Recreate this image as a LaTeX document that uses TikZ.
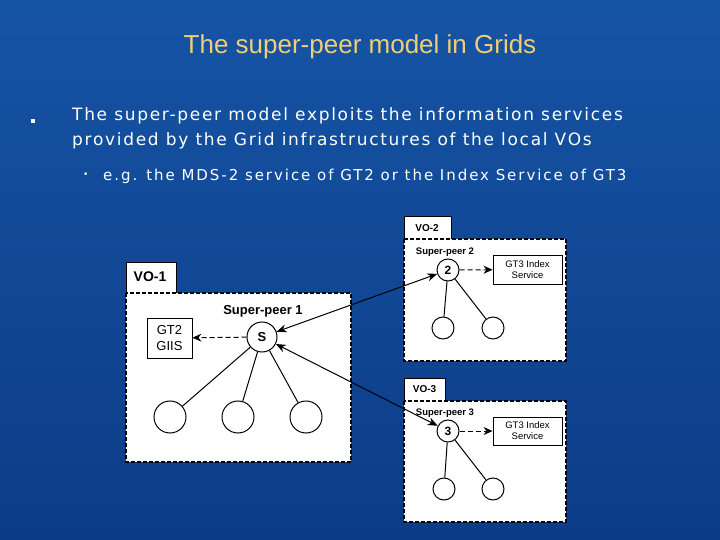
\documentclass[tikz,border=0pt]{standalone}
\usepackage{fontspec}
\setmainfont{Liberation Sans}
\newfontfamily\bodyfont[LetterSpace=10]{DejaVu Sans}
\newfontfamily\subfont[LetterSpace=13]{DejaVu Sans}
\usetikzlibrary{arrows.meta}
\definecolor{bgblue}{RGB}{22,84,165}
\definecolor{bgdark}{RGB}{12,60,135}
\definecolor{titlecol}{RGB}{240,205,120}
\tikzset{
  vobox/.style={draw=black,fill=white,dash pattern=on 4pt off 2pt,line width=1.1pt},
  votab/.style={draw=black,fill=white,line width=1pt},
  peer/.style={circle,draw=black,fill=white,line width=1pt,inner sep=0pt},
  svc/.style={draw=black,fill=white,line width=0.9pt,align=center,inner sep=1pt},
  link/.style={line width=1pt},
  dash arr/.style={dash pattern=on 5pt off 3pt,line width=1pt,-{Stealth[length=9pt,width=8pt]}},
  bi arr/.style={line width=1pt,{Stealth[length=10pt,width=8pt]}-{Stealth[length=10pt,width=8pt]}},
}
\begin{document}
\begin{tikzpicture}[x=1pt,y=-1pt]
\shade[top color=bgblue,bottom color=bgdark] (0,0) rectangle (720,540);
\useasboundingbox (0,0) rectangle (720,540);
\node (title) at (360,47) {\fontsize{26}{30}\selectfont\color{titlecol}The super-peer model in Grids};
\node[fill=white,minimum size=4pt,inner sep=0pt] (b1) at (33,121) {};
\node[anchor=north west,align=left,text=white,inner sep=0pt,font=\bodyfont\fontsize{17}{25}\selectfont] (t1) at (72,107)
 {The super-peer model exploits the information services\\ provided by the Grid infrastructures of the local VOs};
\node[anchor=west,text=white,inner sep=0pt,font=\subfont\fontsize{15}{18}\selectfont] (b2) at (83,176) {{\fontsize{9}{9}\selectfont\raisebox{1pt}{•}}};
\node[anchor=west,text=white,inner sep=0pt,font=\subfont\fontsize{15}{18}\selectfont] (t2) at (103,176) {e.g. the MDS-2 service of GT2 or the Index Service of GT3};
% VO-1
\draw[votab] (126,262) rectangle (176,293);
\node[font=\bfseries\fontsize{14}{16}\selectfont] (vo1) at (150,277) {VO-1};
\draw[vobox] (126,293) rectangle (351,462);
\node[font=\bfseries\fontsize{13}{15}\selectfont] (sp1) at (263,311) {Super-peer 1};
\node[peer,minimum size=30pt,font=\bfseries\fontsize{13}{15}\selectfont] (S) at (262,337) {S};
\node[svc,minimum width=45pt,minimum height=40pt,font=\fontsize{13}{16}\selectfont] (giis) at (169.5,338) {GT2\\GIIS};
\node[peer,minimum size=32pt] (c1) at (170,417) {};
\node[peer,minimum size=32pt] (c2) at (238,417) {};
\node[peer,minimum size=32pt] (c3) at (306,417) {};
\draw[link] (S) -- (c1); \draw[link] (S) -- (c2); \draw[link] (S) -- (c3);
\draw[dash arr] (S) -- (giis);
% VO-2
\draw[votab] (404,217) rectangle (451,239);
\node[font=\bfseries\fontsize{10}{12}\selectfont] (vo2) at (427,228) {VO-2};
\draw[vobox] (404,239) rectangle (566,361);
\node[font=\bfseries\fontsize{9.5}{11}\selectfont] (sp2) at (445,252) {Super-peer 2};
\node[peer,minimum size=22pt,font=\bfseries\fontsize{12}{14}\selectfont] (n2) at (448,270) {2};
\node[svc,minimum width=69pt,minimum height=29pt,font=\fontsize{9.5}{11}\selectfont] (gt3a) at (527.5,269.5) {GT3 Index\\Service};
\node[peer,minimum size=22pt] (d1) at (443,328) {};
\node[peer,minimum size=22pt] (d2) at (493,328) {};
\draw[link] (n2) -- (d1); \draw[link] (n2) -- (d2);
\draw[dash arr] (n2) -- (gt3a);
% VO-3
\draw[votab] (404,378) rectangle (445,401);
\node[font=\bfseries\fontsize{10}{12}\selectfont] (vo3) at (424.5,389.5) {VO-3};
\draw[vobox] (404,401) rectangle (566,522);
\node[font=\bfseries\fontsize{9.5}{11}\selectfont] (sp3) at (445,413) {Super-peer 3};
\node[peer,minimum size=22pt,font=\bfseries\fontsize{12}{14}\selectfont] (n3) at (448,431) {3};
\node[svc,minimum width=69pt,minimum height=28pt,font=\fontsize{9.5}{11}\selectfont] (gt3b) at (527.5,431) {GT3 Index\\Service};
\node[peer,minimum size=22pt] (e1) at (444,489) {};
\node[peer,minimum size=22pt] (e2) at (493,489) {};
\draw[link] (n3) -- (e1); \draw[link] (n3) -- (e2);
\draw[dash arr] (n3) -- (gt3b);
% inter-VO links
\draw[bi arr] (S) -- (n2);
\draw[bi arr] (S) -- (n3);
\end{tikzpicture}
\end{document}
